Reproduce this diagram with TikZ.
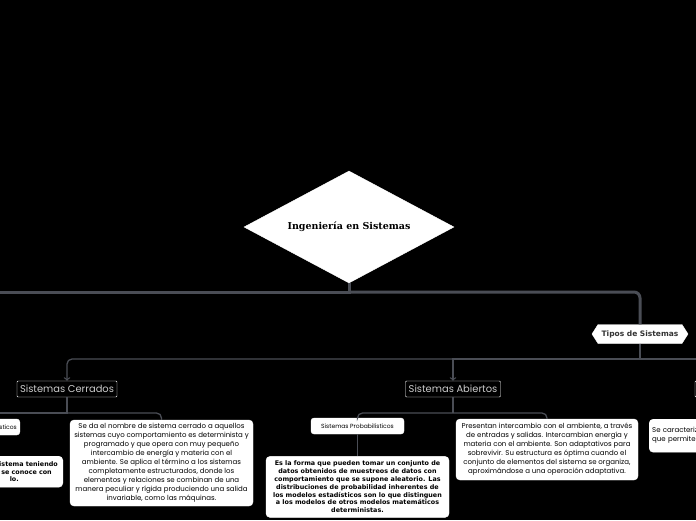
\documentclass[tikz,border=0pt]{standalone}
\usepackage{fontspec}
\setmainfont{Poppins}
\newfontfamily\slabfont{DejaVu Serif}
\newfontfamily\boldsans{DejaVu Sans}
\usetikzlibrary{arrows,shapes,positioning}
\definecolor{linegray}{HTML}{4A4D55}
\definecolor{textgray}{HTML}{333333}

\begin{document}
\begin{tikzpicture}[x=1pt, y=-1pt, node distance=1cm and 1cm,
    every node/.style={inner sep=0pt},
    desc/.style={draw=white, fill=white, rounded corners=4pt, align=center, text=black,
      font=\fontsize{7}{9}\selectfont},
    boldesc/.style={desc, font=\boldsans\bfseries\fontsize{6.4}{7.8}\selectfont},
    topic/.style={draw=white, fill=black, rounded corners=1pt, text=white!80!black,
      minimum height=16pt, font=\fontsize{9.9}{10}\selectfont},
    subtopic/.style={draw=white, fill=white, rounded corners=3pt, text=black,
      minimum height=16pt, font=\fontsize{6}{8}\selectfont},
    thickline/.style={draw=linegray, line width=3pt},
    thinline/.style={draw=linegray, line width=1.3pt},
    >=to]
      \clip (0,0) rectangle (696,520);
      \fill[black] (0,0) rectangle (696,520);

      % central topic
      \node[diamond, draw=white, fill=white, minimum width=210pt, minimum height=112pt,
        aspect=1.875, font=\slabfont\bfseries\fontsize{9.5}{11}\selectfont] (root) at (349,227)
        {Ingeniería en Sistemas};
      \node[signal, signal to=west and east, signal pointer angle=115, draw=white, fill=white,
        minimum width=96pt, minimum height=19pt, text=textgray,
        font=\boldsans\bfseries\fontsize{7.5}{9}\selectfont] (tipos) at (640,334) {Tipos de Sistemas};

      % main topics
      \node[topic, minimum width=100pt] (cerrados) at (67,389) {Sistemas Cerrados};
      \node[topic, minimum width=95pt] (abiertos) at (453,389) {Sistemas Abiertos};
      \node[topic, minimum width=100pt] (third) at (745,389) {};

      % subtopics
      \node[subtopic, anchor=east, text width=90pt, align=right] (deter) at (20,427)
        {Sistemas Determinísticos\rule{3pt}{0pt}};
      \node[subtopic, minimum width=93pt] (prob) at (357.5,426) {Sistemas Probabilísticos};

      % descriptions
      \node[boldesc, anchor=north east, minimum height=31pt, text width=130pt, align=right] (deterdesc) at (63,456)
        {sistema teniendo\rule{5pt}{0pt}\\ s se conoce con\rule{11pt}{0pt}\\ lo.\rule{44pt}{0pt}};
      \node[desc, minimum width=183pt, minimum height=86pt] (cerrdesc) at (161.5,463)
        {Se da el nombre de sistema cerrado a aquellos\\
         sistemas cuyo comportamiento es determinista y\\
         programado y que opera con muy pequeño\\
         intercambio de energía y materia con el\\
         ambiente. Se aplica el término a los sistemas\\
         completamente estructurados, donde los\\
         elementos y relaciones se combinan de una\\
         manera peculiar y rígida produciendo una salida\\
         invariable, como las máquinas.};
      \node[boldesc, minimum width=183pt, minimum height=61pt] (probdesc) [below=22pt of prob]
        {Es la forma que pueden tomar un conjunto de\\
         datos obtenidos de muestreos de datos con\\
         comportamiento que se supone aleatorio. Las\\
         distribuciones de probabilidad inherentes de\\
         los modelos estadísticos son lo que distinguen\\
         a los modelos de otros modelos matemáticos\\
         deterministas.};
      \node[desc, minimum width=182pt, minimum height=61pt] (abdesc) at (547,449.5)
        {Presentan intercambio con el ambiente, a través\\
         de entradas y salidas. Intercambian energía y\\
         materia con el ambiente. Son adaptativos para\\
         sobrevivir. Su estructura es óptima cuando el\\
         conjunto de elementos del sistema se organiza,\\
         aproximándose a una operación adaptativa.};
      \node[desc, anchor=north west, align=left, text width=100pt, minimum height=33pt] (thirddesc) at (649,419)
        {\rule{3pt}{0pt}Se caracteriza\\ \rule{3pt}{0pt}que permite};

      % junctions
      \coordinate (rbar) at (349,292);
      \coordinate (rout) at (-10,292);
      \coordinate (tbar) at (640,359);
      \coordinate (cbar) at (67,413);
      \coordinate (cout) at (-10,413);
      \coordinate (abar) at (453,413);

      \draw[thickline] (root.south) -- (rbar) -- (rout);
      \draw[thickline, rounded corners=6pt] (rbar) -| (tipos.north);

      \draw[thinline] (tipos.south) -- (tbar);
      \draw[thinline, ->, rounded corners=5pt] (tbar) -| (cerrados.north);
      \draw[thinline, ->] (tbar) -| (abiertos.north);
      \draw[thinline, ->] (tbar) -| (third.north);

      \draw[thinline] (cerrados.south) -- (cbar) -- (cout);
      \draw[thinline, rounded corners=5pt] (cbar) -| (cerrdesc.north);

      \draw[thinline] (abiertos.south) -- (abar);
      \draw[thinline, rounded corners=5pt] (abar) -| (prob.north);
      \draw[thinline, rounded corners=5pt] (abar) -| (abdesc.north);
      \draw[thinline] (prob) -- (probdesc);
    \end{tikzpicture}
\end{document}
